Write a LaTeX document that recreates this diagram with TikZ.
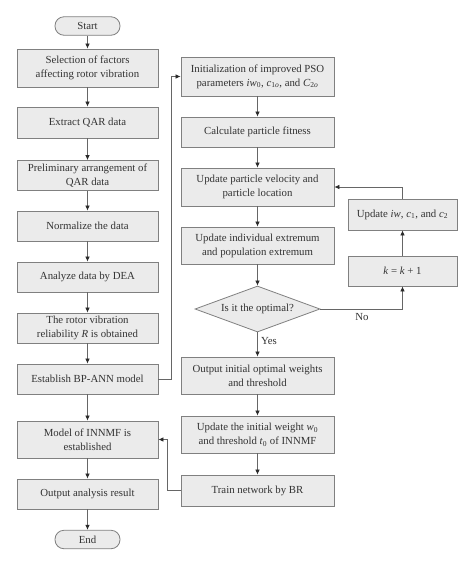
\documentclass[tikz,border=0pt]{standalone}
\usepackage{fontspec}
\setmainfont{Liberation Serif}
\usetikzlibrary{shapes.geometric,arrows.meta}
\definecolor{boxfill}{HTML}{EBEBEB}
\definecolor{boxline}{HTML}{808080}
\definecolor{inkgray}{HTML}{333333}
\definecolor{wiregray}{HTML}{666666}
\definecolor{tipgray}{HTML}{2A2A2A}
\tikzset{
    every node/.style={inner sep=0pt, text=inkgray, font=\fontsize{10.8}{14}\selectfont, align=center}
}
\tikzset{
    box/.style={rectangle, draw=boxline, fill=boxfill, line width=0.8pt, minimum width=141pt, minimum height=30pt},
    rbox/.style={box, minimum width=153pt},
    sbox/.style={box, minimum width=109pt},
    term/.style={rectangle, rounded corners=9pt, draw=boxline, fill=boxfill, line width=0.8pt, minimum width=65pt, minimum height=18.5pt},
    decision/.style={diamond, aspect=2.7, draw=boxline, fill=boxfill, line width=0.8pt, minimum width=125pt, minimum height=46pt},
    arr/.style={draw=wiregray, line width=0.7pt, -{Latex[length=5pt,width=4.4pt,color=tipgray]}},
    tag/.style={draw=none, fill=none}
}

\begin{document}
\begin{tikzpicture}[x=1pt, y=-1pt]
    \path[fill=white, use as bounding box] (0,0) rectangle (474,566);

    % left column
    \node (start) [term] at (87.5, 26) {Start};
    \node (sel) [box, minimum height=38pt] at (87.5, 68) {Selection of factors\\affecting rotor vibration};
    \node (qar) [box, minimum height=31pt] at (87.5, 122.5) {Extract QAR data};
    \node (pre) [box] at (87.5, 175.5) {Preliminary arrangement of\\QAR data};
    \node (nor) [box] at (87.5, 226) {Normalize the data};
    \node (dea) [box] at (87.5, 277) {Analyze data by DEA};
    \node (rel) [box] at (87.5, 328) {The rotor vibration\\reliability \textit{R} is obtained};
    \node (bp) [box] at (87.5, 379) {Establish BP-ANN model};
    \node (mod) [box, minimum height=37pt] at (87.5, 439.5) {Model of INNMF is\\established};
    \node (out) [box] at (87.5, 494) {Output analysis result};
    \node (end) [term] at (87.5, 539.5) {End};

    % right column
    \node (ini) [rbox, minimum height=39pt] at (257.5, 76.5) {Initialization of improved PSO\\parameters \textit{iw}\textsubscript{0}, \textit{c}\textsubscript{1\textit{o}}, and \textit{C}\textsubscript{2\textit{o}}};
    \node (fit) [rbox] at (257.5, 132) {Calculate particle fitness};
    \node (vel) [rbox, minimum height=38pt] at (257.5, 187) {Update particle velocity and\\particle location};
    \node (ext) [rbox, minimum height=37pt] at (257.5, 245.5) {Update individual extremum\\and population extremum};
    \node (opt) [decision] at (257.5, 309) {Is it the optimal?};
    \node (ow) [rbox, minimum height=37pt] at (257.5, 375.5) {Output initial optimal weights\\and threshold};
    \node (uw) [rbox, minimum height=37pt] at (257.5, 434.5) {Update the initial weight \textit{w}\textsubscript{0}\\and threshold \textit{t}\textsubscript{0} of INNMF};
    \node (br) [rbox, minimum height=31pt] at (257.5, 490.5) {Train network by BR};

    % loop column
    \node (upd) [sbox, minimum height=31pt] at (402.5, 214.5) {Update \textit{iw}, \textit{c}\textsubscript{1}, and \textit{c}\textsubscript{2}};
    \node (kk) [sbox] at (402.5, 271) {\textit{k} = \textit{k} + 1};

    \node (no) [tag] at (362, 317) {No};
    \node (yes) [tag, anchor=west] at (261, 341) {Yes};

    \draw (start) edge[arr] (sel);
    \draw (sel) edge[arr] (qar);
    \draw (qar) edge[arr] (pre);
    \draw (pre) edge[arr] (nor);
    \draw (nor) edge[arr] (dea);
    \draw (dea) edge[arr] (rel);
    \draw (rel) edge[arr] (bp);
    \draw (bp) edge[arr] (mod);
    \draw (mod) edge[arr] (out);
    \draw (out) edge[arr] (end);

    \draw (ini) edge[arr] (fit);
    \draw (fit) edge[arr] (vel);
    \draw (vel) edge[arr] (ext);
    \draw (ext) edge[arr] (opt);
    \draw (opt) edge[arr] (ow);
    \draw (ow) edge[arr] (uw);
    \draw (uw) edge[arr] (br);

    \draw[arr] (opt.east) -| (kk.south);
    \draw (kk) edge[arr] (upd);
    \draw[arr] (upd.north) |- (vel.east);

    \draw[arr] (bp.east) -- ++(12.5,0) |- (ini.west);
    \draw[arr] (br.west) -- ++(-13,0) |- (mod.east);
\end{tikzpicture}
\end{document}
